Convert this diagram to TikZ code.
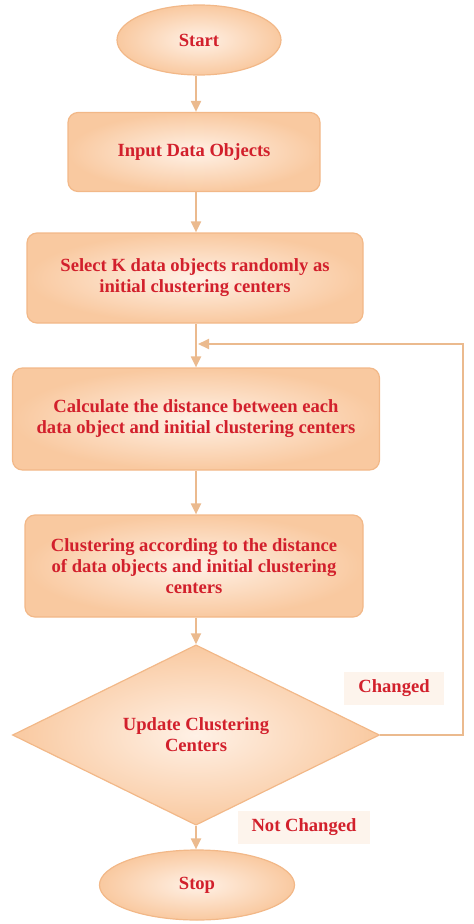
\documentclass[tikz,border=0pt]{standalone}
\usepackage{fontspec}
\setmainfont{Liberation Serif}
\usetikzlibrary{shapes.geometric,arrows.meta}
\definecolor{txtred}{HTML}{D2202C}
\definecolor{edge}{HTML}{F2B888}
\definecolor{fillout}{HTML}{F9C9A0}
\definecolor{fillin}{HTML}{FFF1E6}
\definecolor{arrowc}{HTML}{EBBA8E}
\definecolor{lblbg}{HTML}{FDF4EC}
\tikzset{
  x=1pt, y=-1pt,
  txt/.style={font=\fontsize{18.6}{21}\selectfont\bfseries, text=txtred, align=center},
  shade/.style={draw=edge, line width=1.2pt, inner color=fillin, outer color=fillout},
  procbox/.style={txt, shade, rectangle, rounded corners=10pt, inner sep=0pt},
  term/.style={txt, shade, ellipse, inner sep=0pt},
  decis/.style={txt, shade, diamond, inner sep=0pt},
  lbl/.style={txt, fill=lblbg, inner xsep=14pt, inner ysep=8pt},
  flow/.style={draw=arrowc, line width=2pt, -{Triangle[width=10pt,length=11pt]}}
}
\begin{document}
\begin{tikzpicture}
\useasboundingbox (0,0) rectangle (474,924);
\node[term, minimum width=164pt, minimum height=70pt] (start) at (199,40) {Start};
\node[procbox, minimum width=252pt, minimum height=79pt] (input) at (194,152) {Input Data Objects};
\node[procbox, minimum width=336pt, minimum height=90pt] (select) at (195,278) {Select K data objects randomly as\\initial clustering centers};
\node[procbox, minimum width=367pt, minimum height=102pt] (calc) at (196,419) {Calculate the distance between each\\data object and initial clustering centers};
\node[procbox, minimum width=338pt, minimum height=102pt] (clust) at (194,566) {Clustering according to the distance\\of data objects and initial clustering\\centers};
\node[decis, minimum width=367pt, minimum height=135pt] (dec) at (196,735) {Update Clustering\\Centers};
\node[term, minimum width=195pt, minimum height=70pt] (stop) at (197,885) {Stop};
\node[lbl] (chg) at (394,688) {Changed};
\node[lbl] (nchg) at (304,827) {Not Changed};
\coordinate (fb) at (198,344);
\coordinate (fbr) at (463,344);
\draw[flow] (start.south -| 196,0) -- (input.north -| 196,0);
\draw[flow] (input.south -| 196,0) -- (select.north -| 196,0);
\draw[flow] (select.south -| 196,0) -- (calc.north -| 196,0);
\draw[flow] (calc.south -| 196,0) -- (clust.north -| 196,0);
\draw[flow] (clust.south -| 196,0) -- (dec.north);
\draw[flow] (dec.south) -- (stop.north -| 196,0);
\draw[flow] (dec.east) -| (fbr) -- (fb);
\end{tikzpicture}
\end{document}
